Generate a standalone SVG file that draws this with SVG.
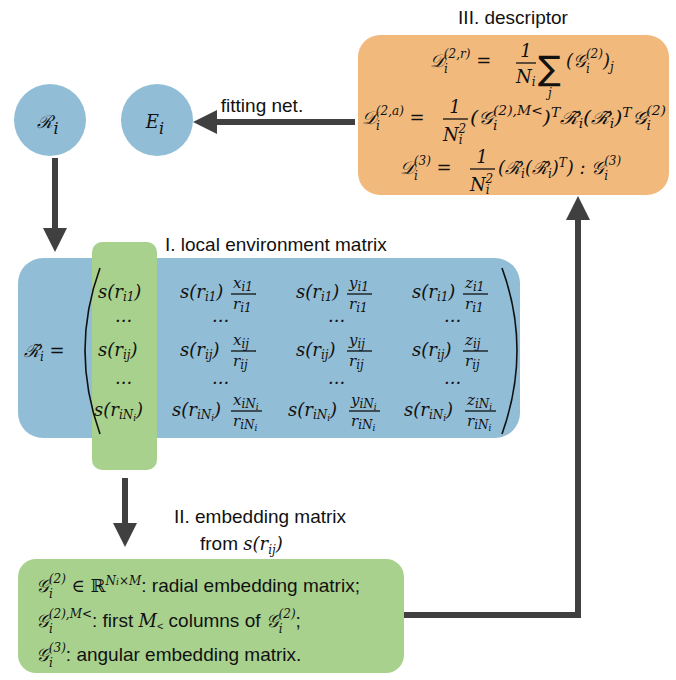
<svg xmlns="http://www.w3.org/2000/svg" width="676" height="680" viewBox="0 0 676 680">
<style>
.t{font-family:"Liberation Sans",Arial,sans-serif;font-size:19px;fill:#111}
.m{font-family:"DejaVu Serif","Liberation Serif",serif;font-style:italic;font-size:18px;fill:#111}
.s{font-size:12px}
.f{font-size:15px}
.c{text-anchor:middle}
.ln{stroke:#404040;stroke-width:6;fill:none}
.fl{stroke:#111;stroke-width:1.3}
</style>
<defs>
<marker id="ah" markerWidth="4" markerHeight="4" refX="2" refY="2" orient="auto" markerUnits="strokeWidth"><path d="M0,0L4,2L0,4z" fill="#404040"/></marker>
</defs>
<g id="connectors">
<path class="ln" d="M355,122H205" marker-end="url(#ah)"/>
<path class="ln" d="M55,158V240" marker-end="url(#ah)"/>
<path class="ln" d="M125,478V535" marker-end="url(#ah)"/>
<path class="ln" d="M404,615H578V208" marker-end="url(#ah)"/>
<text class="t" x="262" y="112" text-anchor="middle">fitting net.</text>
</g>
<g id="R"><circle cx="50" cy="120" r="36" fill="#92bdd7"/><text class="m c" x="48" y="128" font-size="26">ℛ<tspan font-size="16" dy="6">i</tspan></text></g>
<g id="E"><circle cx="157" cy="120" r="36" fill="#92bdd7"/><text class="m c" x="155" y="128" font-size="26">E<tspan font-size="16" dy="6">i</tspan></text></g>
<g id="descriptor">
<text class="t c" x="513" y="24">III. descriptor</text>
<rect x="358" y="35" width="311" height="160" rx="22" fill="#f2b97d"/>
<text class="m" x="430" y="67">𝒟<tspan class="s" dy="6">i</tspan><tspan class="s" dy="-15" dx="-4">(2,r)</tspan><tspan dy="9" font-style="normal"> =</tspan></text>
<text class="m c" x="526" y="57">1</text><line class="fl" x1="516" y1="63" x2="536" y2="63"/><text class="m" x="516" y="83">N<tspan class="s" dy="3">i</tspan></text>
<text x="538" y="80" font-family="DejaVu Sans,sans-serif" font-size="34" fill="#111">∑</text><text class="m s" x="548" y="97">j</text>
<text class="m" x="566" y="67">(𝒢<tspan class="s" dy="6">i</tspan><tspan class="s" dy="-15" dx="-4">(2)</tspan><tspan dy="9">)</tspan><tspan class="s" dy="4">j</tspan></text>
<text class="m" x="362" y="124">𝒟<tspan class="s" dy="6">i</tspan><tspan class="s" dy="-15" dx="-4">(2,a)</tspan><tspan dy="9" font-style="normal"> =</tspan></text>
<text class="m c" x="455" y="113">1</text><line class="fl" x1="443" y1="119" x2="468" y2="119"/><text class="m" x="443" y="141">N<tspan class="s" dy="3">i</tspan><tspan class="s" dy="-11" dx="-4">2</tspan></text>
<text class="m" x="470" y="124" textLength="196" lengthAdjust="spacingAndGlyphs">(𝒢<tspan class="s" dy="6">i</tspan><tspan class="s" dy="-15" dx="-4">(2),M&lt;</tspan><tspan dy="9">)</tspan><tspan class="s" dy="-7">T</tspan><tspan dy="7">ℛ̃</tspan><tspan class="s" dy="4">i</tspan><tspan dy="-4">(ℛ̃</tspan><tspan class="s" dy="4">i</tspan><tspan dy="-4">)</tspan><tspan class="s" dy="-7">T</tspan><tspan dy="7">𝒢</tspan><tspan class="s" dy="6">i</tspan><tspan class="s" dy="-15" dx="-4">(2)</tspan></text>
<text class="m" x="400" y="174">𝒟<tspan class="s" dy="6">i</tspan><tspan class="s" dy="-15" dx="-4">(3)</tspan><tspan dy="9" font-style="normal"> =</tspan></text>
<text class="m c" x="482" y="163">1</text><line class="fl" x1="470" y1="169" x2="495" y2="169"/><text class="m" x="470" y="191">N<tspan class="s" dy="3">i</tspan><tspan class="s" dy="-11" dx="-4">2</tspan></text>
<text class="m" x="498" y="174">(ℛ̃<tspan class="s" dy="4">i</tspan><tspan dy="-4">(ℛ̃</tspan><tspan class="s" dy="4">i</tspan><tspan dy="-4">)</tspan><tspan class="s" dy="-7">T</tspan><tspan dy="7">) : 𝒢</tspan><tspan class="s" dy="6">i</tspan><tspan class="s" dy="-15" dx="-4">(3)</tspan></text>
</g>
<g id="env">
<rect x="18" y="258" width="502" height="180" rx="25" fill="#92bdd7"/>
<rect x="92" y="242" width="65" height="228" rx="10" fill="#a9d18e"/>
<text class="t" x="165" y="251">I. local environment matrix</text>
<text class="m" x="24" y="357">ℛ̃<tspan class="s" dy="4">i</tspan><tspan dy="-4" font-style="normal"> =</tspan></text>
<path d="M100,268Q70,350 100,434" stroke="#111" stroke-width="1.6" fill="none"/>
<path d="M502,268Q532,350 502,434" stroke="#111" stroke-width="1.6" fill="none"/>
<g class="m" font-size="17">
<text x="98" y="298">s(r<tspan class="s" dy="3">i1</tspan><tspan dy="-3">)</tspan></text>
<text x="115" y="322">...</text>
<text x="98" y="356">s(r<tspan class="s" dy="3">ij</tspan><tspan dy="-3">)</tspan></text>
<text x="115" y="384">...</text>
<text x="94" y="416">s(r<tspan class="s" dy="3">iN</tspan><tspan font-size="9" dy="2">i</tspan><tspan dy="-5">)</tspan></text>
</g>
<g class="m" font-size="17">
<text x="180" y="298">s(r<tspan class="s" dy="3">i1</tspan><tspan dy="-3">)</tspan></text><text x="233" y="288" class="f">x<tspan class="s" dy="3">i1</tspan></text><line class="fl" x1="231" y1="294" x2="256" y2="294"/><text x="233" y="309" class="f">r<tspan class="s" dy="3">i1</tspan></text>
<text x="296" y="298">s(r<tspan class="s" dy="3">i1</tspan><tspan dy="-3">)</tspan></text><text x="349" y="288" class="f">y<tspan class="s" dy="3">i1</tspan></text><line class="fl" x1="347" y1="294" x2="372" y2="294"/><text x="349" y="309" class="f">r<tspan class="s" dy="3">i1</tspan></text>
<text x="412" y="298">s(r<tspan class="s" dy="3">i1</tspan><tspan dy="-3">)</tspan></text><text x="465" y="288" class="f">z<tspan class="s" dy="3">i1</tspan></text><line class="fl" x1="463" y1="294" x2="488" y2="294"/><text x="465" y="309" class="f">r<tspan class="s" dy="3">i1</tspan></text>
<text x="212" y="322">...</text><text x="328" y="322">...</text><text x="444" y="322">...</text>
<text x="180" y="356">s(r<tspan class="s" dy="3">ij</tspan><tspan dy="-3">)</tspan></text><text x="233" y="345" class="f">x<tspan class="s" dy="3">ij</tspan></text><line class="fl" x1="231" y1="351" x2="256" y2="351"/><text x="233" y="366" class="f">r<tspan class="s" dy="3">ij</tspan></text>
<text x="296" y="356">s(r<tspan class="s" dy="3">ij</tspan><tspan dy="-3">)</tspan></text><text x="349" y="345" class="f">y<tspan class="s" dy="3">ij</tspan></text><line class="fl" x1="347" y1="351" x2="372" y2="351"/><text x="349" y="366" class="f">r<tspan class="s" dy="3">ij</tspan></text>
<text x="412" y="356">s(r<tspan class="s" dy="3">ij</tspan><tspan dy="-3">)</tspan></text><text x="465" y="345" class="f">z<tspan class="s" dy="3">ij</tspan></text><line class="fl" x1="463" y1="351" x2="488" y2="351"/><text x="465" y="366" class="f">r<tspan class="s" dy="3">ij</tspan></text>
<text x="212" y="384">...</text><text x="328" y="384">...</text><text x="444" y="384">...</text>
<text x="172" y="416">s(r<tspan class="s" dy="3">iN</tspan><tspan font-size="9" dy="2">i</tspan><tspan dy="-5">)</tspan></text><text x="233" y="405" class="f">x<tspan class="s" dy="3">iN</tspan><tspan font-size="9" dy="2">i</tspan></text><line class="fl" x1="231" y1="411" x2="262" y2="411"/><text x="233" y="426" class="f">r<tspan class="s" dy="3">iN</tspan><tspan font-size="9" dy="2">i</tspan></text>
<text x="288" y="416">s(r<tspan class="s" dy="3">iN</tspan><tspan font-size="9" dy="2">i</tspan><tspan dy="-5">)</tspan></text><text x="351" y="405" class="f">y<tspan class="s" dy="3">iN</tspan><tspan font-size="9" dy="2">i</tspan></text><line class="fl" x1="349" y1="411" x2="380" y2="411"/><text x="351" y="426" class="f">r<tspan class="s" dy="3">iN</tspan><tspan font-size="9" dy="2">i</tspan></text>
<text x="404" y="416">s(r<tspan class="s" dy="3">iN</tspan><tspan font-size="9" dy="2">i</tspan><tspan dy="-5">)</tspan></text><text x="467" y="405" class="f">z<tspan class="s" dy="3">iN</tspan><tspan font-size="9" dy="2">i</tspan></text><line class="fl" x1="465" y1="411" x2="496" y2="411"/><text x="467" y="426" class="f">r<tspan class="s" dy="3">iN</tspan><tspan font-size="9" dy="2">i</tspan></text>
</g>
</g>
<g id="embedding">
<text class="t c" x="260" y="523">II. embedding matrix</text>
<text class="t" x="200" y="550">from <tspan class="m" font-size="20">s(r<tspan class="s" dy="4">ij</tspan><tspan dy="-4">)</tspan></tspan></text>
<rect x="18" y="559" width="386" height="114" rx="18" fill="#a9d18e"/>
<text class="t" x="36" y="592"><tspan class="m">𝒢<tspan class="s" dy="6">i</tspan><tspan class="s" dy="-15" dx="-4">(2)</tspan><tspan dy="9" font-style="normal"> ∈ ℝ</tspan><tspan class="s" dy="-7">N</tspan><tspan font-size="9">i</tspan><tspan class="s">×M</tspan></tspan><tspan dy="7">: radial embedding matrix;</tspan></text>
<text class="t" x="36" y="627"><tspan class="m">𝒢<tspan class="s" dy="6">i</tspan><tspan class="s" dy="-15" dx="-4">(2),M&lt;</tspan></tspan><tspan dy="9">: first </tspan><tspan class="m">M</tspan><tspan font-size="11" dy="3">&lt;</tspan><tspan dy="-3"> columns of </tspan><tspan class="m">𝒢<tspan class="s" dy="6">i</tspan><tspan class="s" dy="-15" dx="-4">(2)</tspan></tspan><tspan dy="9">;</tspan></text>
<text class="t" x="36" y="661"><tspan class="m">𝒢<tspan class="s" dy="6">i</tspan><tspan class="s" dy="-15" dx="-4">(3)</tspan></tspan><tspan dy="9">: angular embedding matrix.</tspan></text>
</g>
</svg>
